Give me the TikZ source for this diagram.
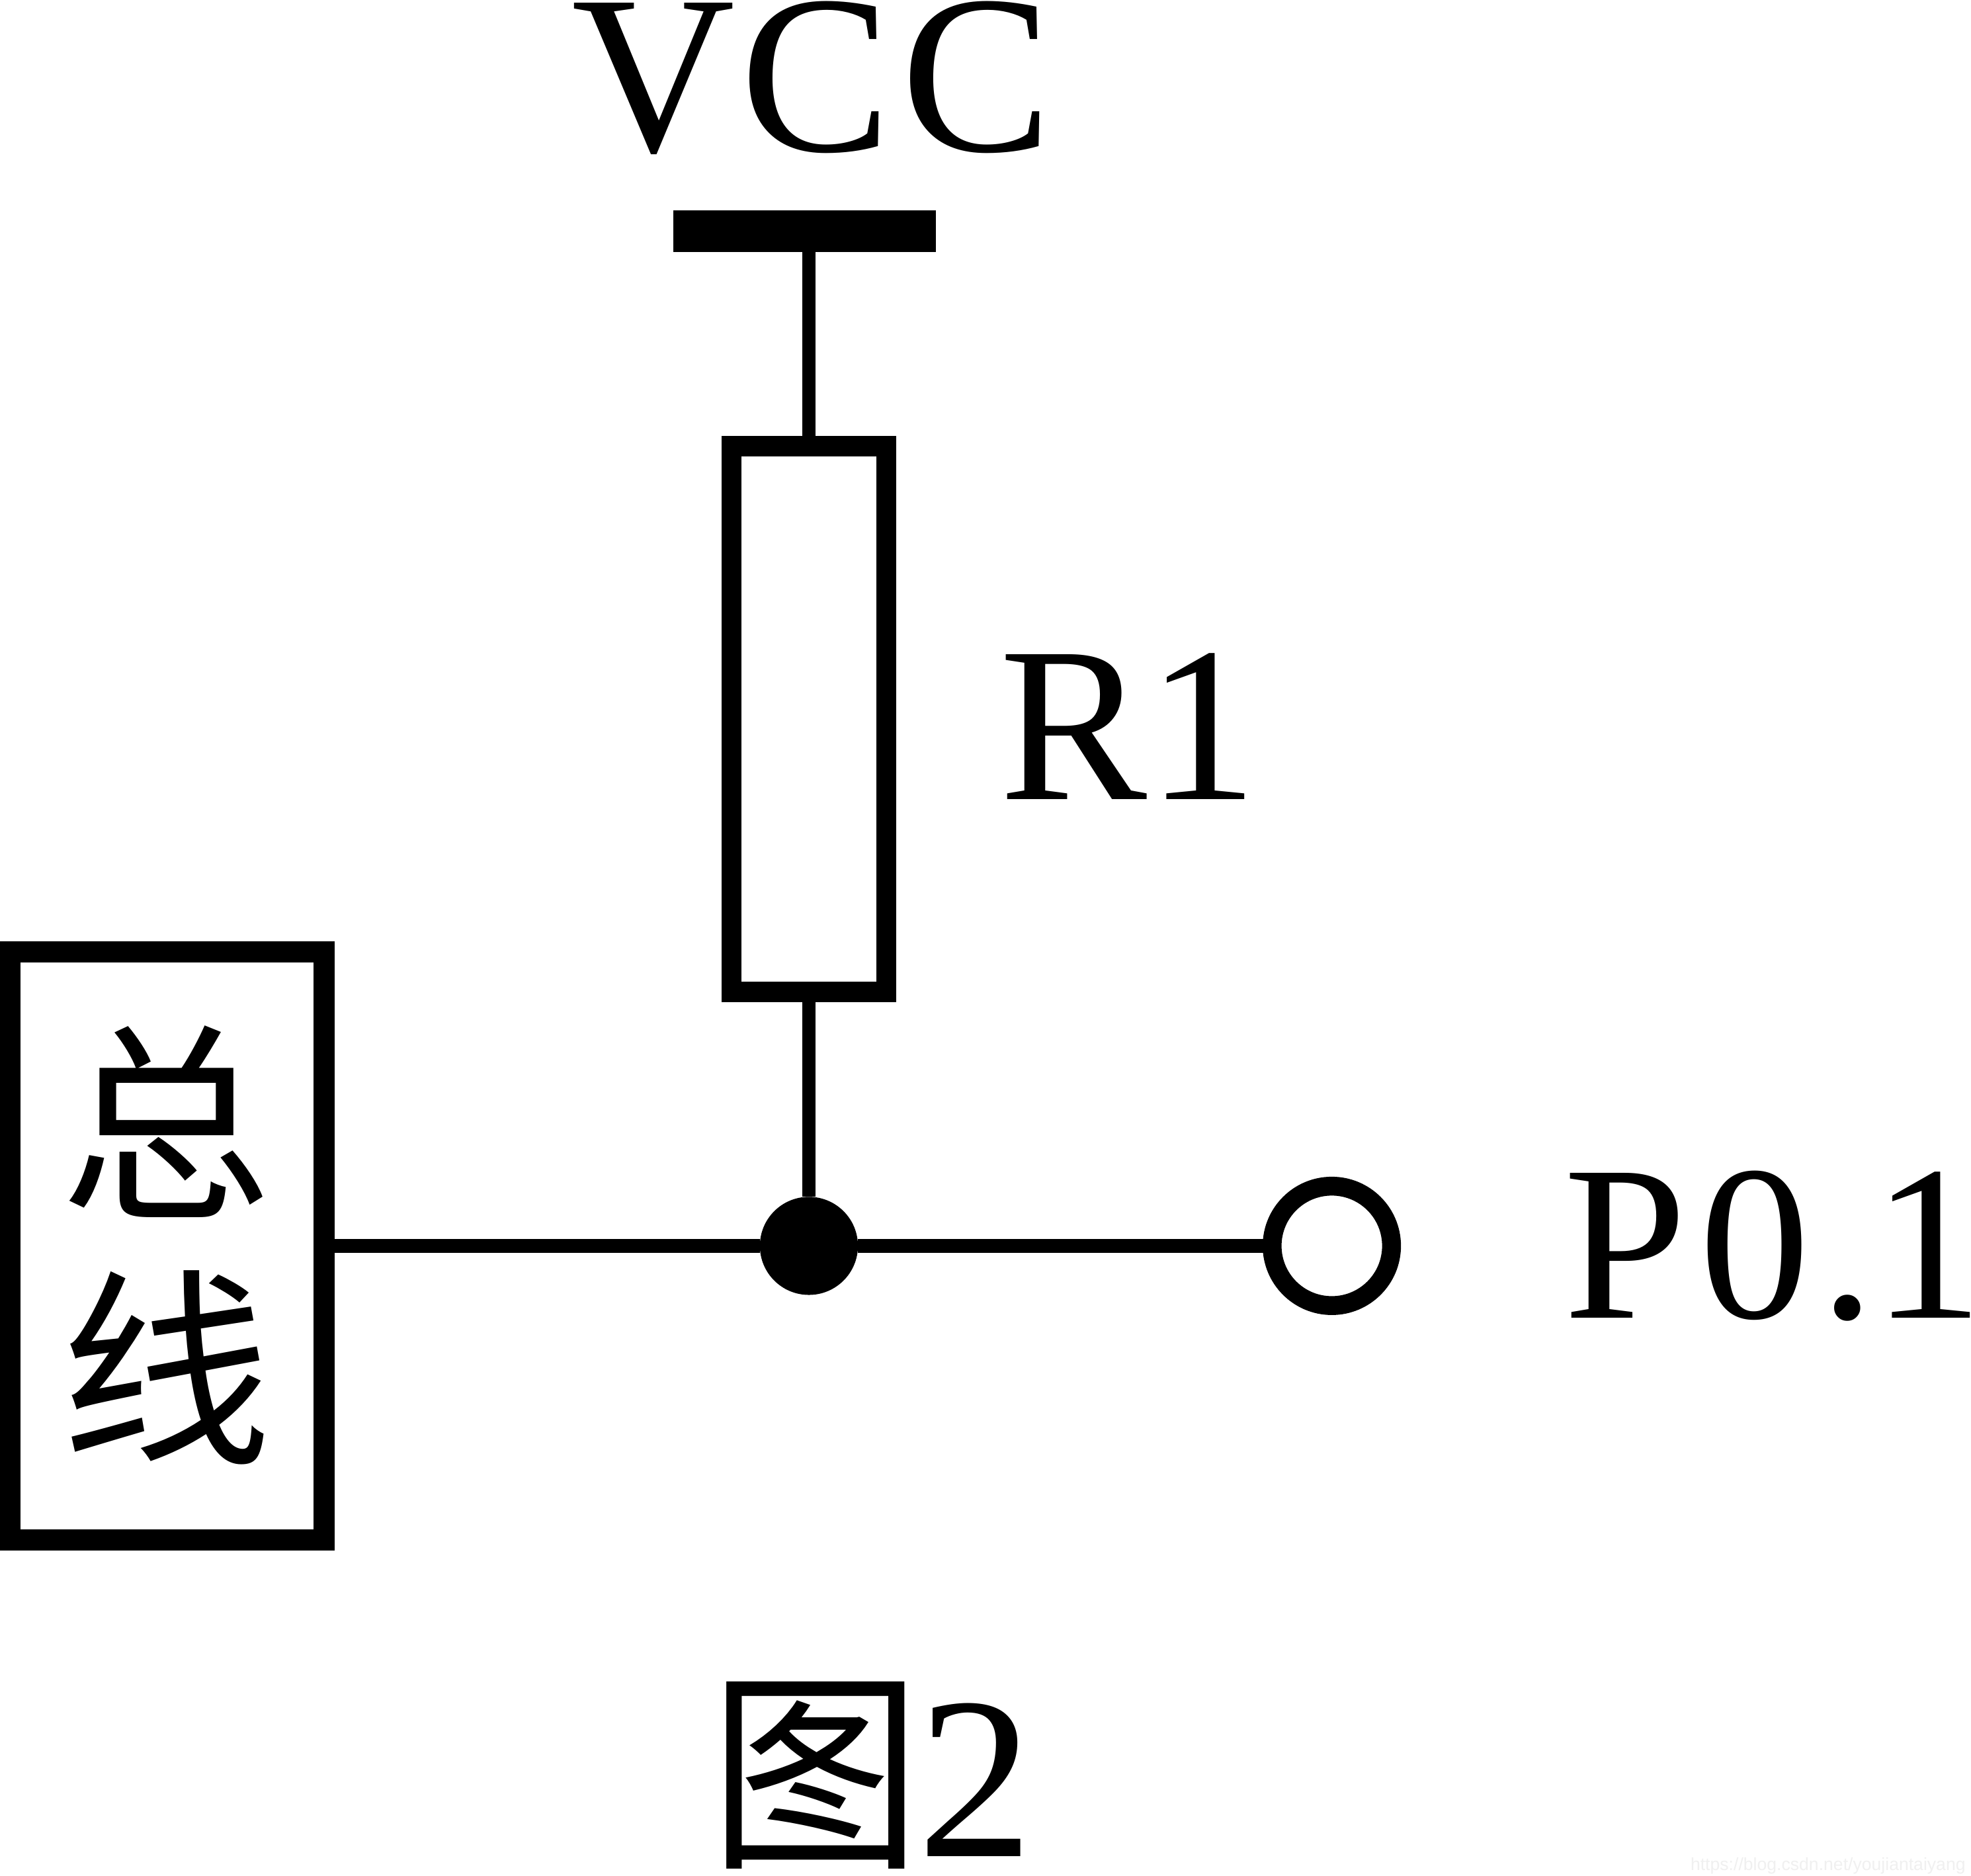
\documentclass[tikz,border=0pt]{standalone}
\usepackage{fontspec}
\setmainfont{Liberation Serif}
\newfontfamily\cjk{Noto Sans CJK SC}
\newfontfamily\wm{Liberation Sans}
\tikzset{
  x=0.5pt,y=-0.5pt,
  wire/.style={line width=5.5pt,draw=black},
  label/.style={inner sep=0pt,outer sep=0pt,font=\fontsize{88pt}{88pt}\selectfont,anchor=center},
  hz/.style={inner sep=0pt,outer sep=0pt,font=\cjk\fontsize{84pt}{84pt}\selectfont,anchor=center},
  term/.style={circle,draw=black,line width=7.5pt,fill=white,minimum size=47.5pt,inner sep=0pt,outer sep=0pt},
  dot/.style={circle,fill=black,minimum size=39pt,inner sep=0pt,outer sep=0pt},
}
\begin{document}
\begin{tikzpicture}
\useasboundingbox (0,0) rectangle (1568,1492);
\fill[white] (0,0) rectangle (1568,1492);
\node[label,font=\fontsize{90pt}{90pt}\selectfont] (vcc) at (646,62) {V\kern2pt C\kern4pt C};
\node[fill=black,inner sep=0pt,outer sep=0pt,minimum width=104.5pt,minimum height=16.5pt] (rail) at (640,184) {};
\node[draw=black,line width=8pt,fill=white,inner sep=0pt,outer sep=0pt,minimum width=61.5pt,minimum height=217pt] (r1) at (643.5,572) {};
\node[label] (r1t) at (898,578) {R1};
\node[draw=black,line width=8.5pt,fill=white,inner sep=0pt,outer sep=0pt,minimum width=125pt,minimum height=234pt] (bus) at (133,991) {};
\node[hz] (z1) at (132,892) {总};
\node[hz] (z2) at (132,1088) {线};
\node[dot] (j) at (643.5,991) {};
\node[term] (p) at (1059.5,991) {};
\node[label] (pt) at (1411,991) {P\kern5pt 0\kern4pt .\kern-1pt 1};
\coordinate (railb) at (643.5,200);
\draw[wire] (railb) -- (r1.north);
\draw[wire] (r1.south) -- (j);
\draw[wire] (bus.east) -- (j);
\draw[wire] (j) -- (p);
\node[hz,font=\cjk\fontsize{85pt}{85pt}\selectfont] (f) at (649,1412) {图};
\node[label,font=\fontsize{92pt}{92pt}\selectfont] (f2) at (776,1416) {2};
\node[inner sep=0pt,anchor=east,text=gray!12,font=\wm\fontsize{7pt}{7pt}\selectfont] (w) at (1564,1484) {https://blog.csdn.net/youjiantaiyang};
\end{tikzpicture}
\end{document}
